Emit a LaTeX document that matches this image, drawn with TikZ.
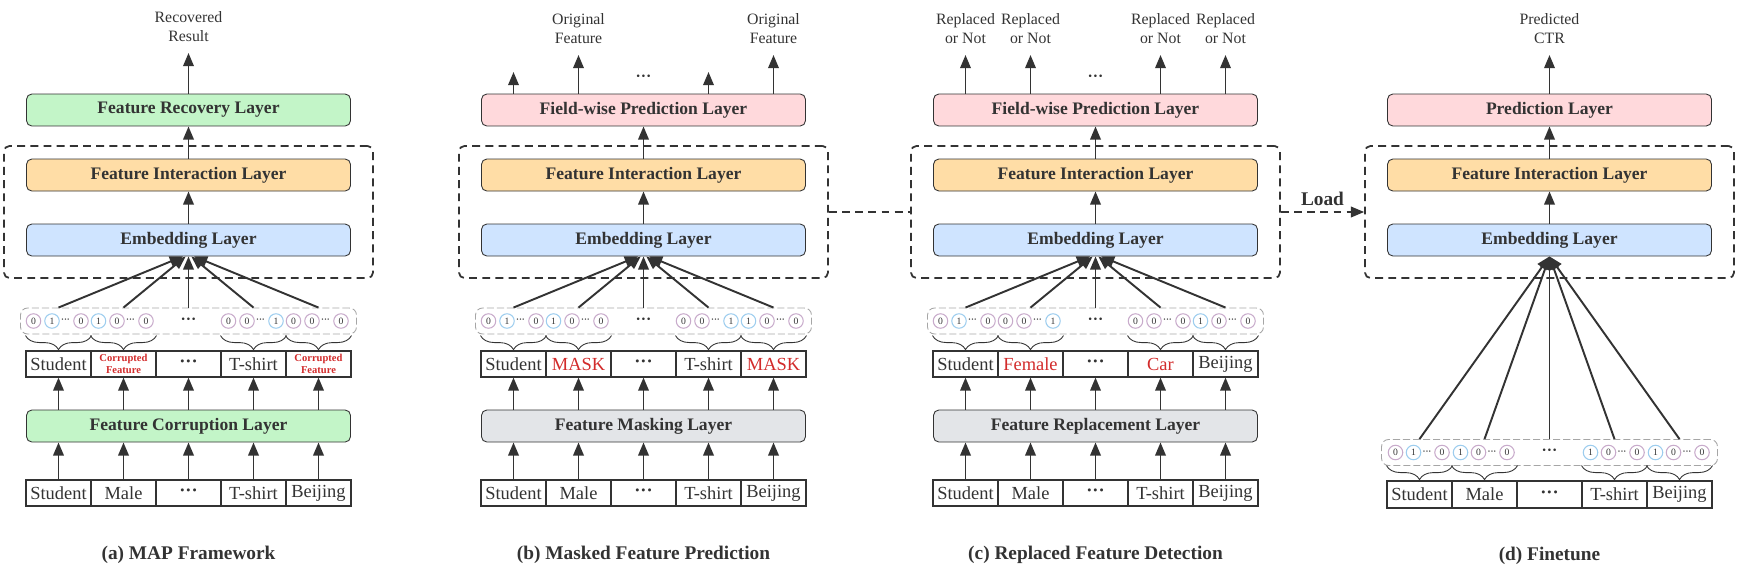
\documentclass[tikz,border=0pt]{standalone}
\usepackage{fontspec}
\setmainfont{Liberation Serif}
\usetikzlibrary{arrows.meta, decorations.pathreplacing, positioning}

\definecolor{ink}{HTML}{333333}
\definecolor{recfill}{HTML}{C3F5C8}
\definecolor{intfill}{HTML}{FFDDA6}
\definecolor{embfill}{HTML}{CFE4FF}
\definecolor{predfill}{HTML}{FFD9DC}
\definecolor{maskfill}{HTML}{E3E5E8}
\definecolor{ring0}{HTML}{C8ABCB}
\definecolor{ring1}{HTML}{9DCDEE}
\definecolor{hot}{HTML}{D22B2B}

\newcommand{\fielddots}{\textbf{···}}

\tikzset{
  layer/.style={draw=ink, line width=0.5pt, rounded corners=3pt, minimum width=6.48cm, minimum height=0.64cm, inner sep=0pt, text=ink, font=\bfseries\fontsize{10}{12}\selectfont},
  cell/.style={draw=ink, line width=0.6pt, minimum width=1.3cm, minimum height=0.52cm, inner sep=0pt, text=ink, font=\fontsize{10.5}{12}\selectfont},
  arr/.style={draw=ink, line width=1.1pt, -{Triangle[length=7.5pt, width=6pt]}},
  frame/.style={draw=ink, line width=1pt, dash pattern=on 4.5pt off 3pt, rounded corners=3pt, minimum width=7.38cm, minimum height=2.64cm, inner sep=0pt},
  link/.style={draw=ink, line width=1pt, dash pattern=on 4.5pt off 3pt},
  vecbox/.style={draw=black!35, line width=0.5pt, dash pattern=on 4pt off 1.7pt, rounded corners=4pt, minimum width=6.72cm, minimum height=0.52cm, inner sep=0pt},
  bit/.style={circle, line width=0.6pt, minimum size=0.29cm, inner sep=0pt, text=ink, font=\fontsize{5.5}{6}\selectfont},
  dotsm/.style={inner sep=0pt, text=ink, font=\bfseries\fontsize{5}{6}\selectfont},
  dotlg/.style={inner sep=0pt, text=ink, font=\bfseries\fontsize{9}{10}\selectfont},
  brc/.style={draw=ink, line width=0.5pt, decorate, decoration={brace, mirror, amplitude=8pt}},
  outlbl/.style={align=center, inner sep=0pt, text=ink, font=\fontsize{9}{10.8}\selectfont},
  caption/.style={text=ink, font=\bfseries\fontsize{11}{13}\selectfont},
  hotsm/.style={text=hot, font=\bfseries\fontsize{6}{7.2}\selectfont, align=center},
  hotlg/.style={text=hot},
}

\begin{document}
\begin{tikzpicture}[x=0.02cm, y=-0.02cm]
  \useasboundingbox (0,0) rectangle (1738,575);

  % (a) MAP Framework
  \begin{scope}[shift={(26,0)}]
    \node[frame] (a-frame) at (162.5, 212) {};
    \node[layer, fill=recfill] (a-rec) at (162.5, 110) {Feature Recovery Layer};
    \node[layer, fill=intfill] (a-int) at (162.5, 175) {Feature Interaction Layer};
    \node[layer, fill=embfill] (a-emb) at (162.5, 240) {Embedding Layer};
    \node[vecbox] (a-vec) at (162.5, 321) {};

    \node[cell] (a-t1) at (32.5, 364) {Student};
    \node[cell, hotsm] (a-t2) at (97.5, 364) {Corrupted\\Feature};
    \node[cell] (a-t3) at (162.5, 364) {\fielddots};
    \node[cell] (a-t4) at (227.5, 364) {T-shirt};
    \node[cell, hotsm] (a-t5) at (292.5, 364) {Corrupted\\Feature};

    \node[layer, fill=recfill] (a-cor) at (162.5, 426) {Feature Corruption Layer};
    \foreach \k/\w in {1/Student, 2/Male, 3/\fielddots, 4/T-shirt, 5/Beijing}
      \node[cell] (a-b\k) at (65*\k-32.5, 493) {\w};

    \foreach \k/\p/\q/\r in {1/0/1/0, 2/1/0/0, 4/0/0/1, 5/0/0/0} {
      \node[bit, draw=ring\p] (a-v\k-1) at (65*\k-57.5, 321) {\p};
      \node[bit, draw=ring\q] (a-v\k-2) at (65*\k-39, 321) {\q};
      \node[dotsm] (a-v\k-3) at (65*\k-25.5, 321) {···};
      \node[bit, draw=ring\r] (a-v\k-4) at (65*\k-10, 321) {\r};
      \draw[brc] ([yshift=8.5pt]a-t\k.north west) -- ([yshift=8.5pt]a-t\k.north east);
    }
    \node[dotlg] (a-v3) at (162.5, 321) {···};

    \foreach \k in {1,...,5} {
      \draw[arr] (a-b\k.north) -- (a-b\k.north |- a-cor.south);
      \draw[arr] (a-t\k.south |- a-cor.north) -- (a-t\k.south);
      \draw[arr] (a-t\k.north |- a-vec.north) -- ([xshift=(\k-3)*1.6pt]a-emb.south);
    }
    \draw[arr] (a-emb.north) -- (a-int.south);
    \draw[arr] (a-int.north) -- (a-rec.south);

    \coordinate (a-out) at (162.5, 53);
    \draw[arr] (a-rec.north) -- (a-out);
    \node[outlbl, above=6pt of a-out] (a-lbl) {Recovered\\Result};

    \node[caption] (a-cap) at (162.5, 555) {(a) MAP Framework};
  \end{scope}

  % (b) Masked Feature Prediction
  \begin{scope}[shift={(481,0)}]
    \node[frame] (b-frame) at (162.5, 212) {};
    \node[layer, fill=predfill] (b-pred) at (162.5, 110) {Field-wise Prediction Layer};
    \node[layer, fill=intfill] (b-int) at (162.5, 175) {Feature Interaction Layer};
    \node[layer, fill=embfill] (b-emb) at (162.5, 240) {Embedding Layer};
    \node[vecbox] (b-vec) at (162.5, 321) {};

    \node[cell] (b-t1) at (32.5, 364) {Student};
    \node[cell, hotlg] (b-t2) at (97.5, 364) {MASK};
    \node[cell] (b-t3) at (162.5, 364) {\fielddots};
    \node[cell] (b-t4) at (227.5, 364) {T-shirt};
    \node[cell, hotlg] (b-t5) at (292.5, 364) {MASK};

    \node[layer, fill=maskfill] (b-mask) at (162.5, 426) {Feature Masking Layer};
    \foreach \k/\w in {1/Student, 2/Male, 3/\fielddots, 4/T-shirt, 5/Beijing}
      \node[cell] (b-b\k) at (65*\k-32.5, 493) {\w};

    \foreach \k/\p/\q/\r in {1/0/1/0, 2/1/0/0, 4/0/0/1, 5/1/0/0} {
      \node[bit, draw=ring\p] (b-v\k-1) at (65*\k-57.5, 321) {\p};
      \node[bit, draw=ring\q] (b-v\k-2) at (65*\k-39, 321) {\q};
      \node[dotsm] (b-v\k-3) at (65*\k-25.5, 321) {···};
      \node[bit, draw=ring\r] (b-v\k-4) at (65*\k-10, 321) {\r};
      \draw[brc] ([yshift=8.5pt]b-t\k.north west) -- ([yshift=8.5pt]b-t\k.north east);
    }
    \node[dotlg] (b-v3) at (162.5, 321) {···};

    \foreach \k in {1,...,5} {
      \draw[arr] (b-b\k.north) -- (b-b\k.north |- b-mask.south);
      \draw[arr] (b-t\k.south |- b-mask.north) -- (b-t\k.south);
      \draw[arr] (b-t\k.north |- b-vec.north) -- ([xshift=(\k-3)*1.6pt]b-emb.south);
    }
    \draw[arr] (b-emb.north) -- (b-int.south);
    \draw[arr] (b-int.north) -- (b-pred.south);

    \coordinate (b-out1) at (32.5, 72);
    \coordinate (b-out2) at (97.5, 55);
    \coordinate (b-out4) at (227.5, 72);
    \coordinate (b-out5) at (292.5, 55);
    \foreach \k in {1,2,4,5}
      \draw[arr] (b-pred.north -| b-out\k) -- (b-out\k);
    \node[dotlg] (b-dots) at (162.5, 78) {···};
    \node[outlbl, above=6pt of b-out2] (b-lbl2) {Original\\Feature};
    \node[outlbl, above=6pt of b-out5] (b-lbl5) {Original\\Feature};

    \node[caption] (b-cap) at (162.5, 555) {(b) Masked Feature Prediction};
  \end{scope}

  % (c) Replaced Feature Detection
  \begin{scope}[shift={(933,0)}]
    \node[frame] (c-frame) at (162.5, 212) {};
    \node[layer, fill=predfill] (c-pred) at (162.5, 110) {Field-wise Prediction Layer};
    \node[layer, fill=intfill] (c-int) at (162.5, 175) {Feature Interaction Layer};
    \node[layer, fill=embfill] (c-emb) at (162.5, 240) {Embedding Layer};
    \node[vecbox] (c-vec) at (162.5, 321) {};

    \node[cell] (c-t1) at (32.5, 364) {Student};
    \node[cell, hotlg] (c-t2) at (97.5, 364) {Female};
    \node[cell] (c-t3) at (162.5, 364) {\fielddots};
    \node[cell, hotlg] (c-t4) at (227.5, 364) {Car};
    \node[cell] (c-t5) at (292.5, 364) {Beijing};

    \node[layer, fill=maskfill] (c-repl) at (162.5, 426) {Feature Replacement Layer};
    \foreach \k/\w in {1/Student, 2/Male, 3/\fielddots, 4/T-shirt, 5/Beijing}
      \node[cell] (c-b\k) at (65*\k-32.5, 493) {\w};

    \foreach \k/\p/\q/\r in {1/0/1/0, 2/0/0/1, 4/0/0/0, 5/1/0/0} {
      \node[bit, draw=ring\p] (c-v\k-1) at (65*\k-57.5, 321) {\p};
      \node[bit, draw=ring\q] (c-v\k-2) at (65*\k-39, 321) {\q};
      \node[dotsm] (c-v\k-3) at (65*\k-25.5, 321) {···};
      \node[bit, draw=ring\r] (c-v\k-4) at (65*\k-10, 321) {\r};
      \draw[brc] ([yshift=8.5pt]c-t\k.north west) -- ([yshift=8.5pt]c-t\k.north east);
    }
    \node[dotlg] (c-v3) at (162.5, 321) {···};

    \foreach \k in {1,...,5} {
      \draw[arr] (c-b\k.north) -- (c-b\k.north |- c-repl.south);
      \draw[arr] (c-t\k.south |- c-repl.north) -- (c-t\k.south);
      \draw[arr] (c-t\k.north |- c-vec.north) -- ([xshift=(\k-3)*1.6pt]c-emb.south);
    }
    \draw[arr] (c-emb.north) -- (c-int.south);
    \draw[arr] (c-int.north) -- (c-pred.south);

    \foreach \k in {1,2,4,5} {
      \coordinate (c-out\k) at (65*\k-32.5, 55);
      \draw[arr] (c-pred.north -| c-out\k) -- (c-out\k);
      \node[outlbl, above=6pt of c-out\k] (c-lbl\k) {Replaced\\or Not};
    }
    \node[dotlg] (c-dots) at (162.5, 78) {···};

    \node[caption] (c-cap) at (162.5, 555) {(c) Replaced Feature Detection};
  \end{scope}

  % (d) Finetune
  \begin{scope}[shift={(1387,0)}]
    \node[frame] (d-frame) at (162.5, 212) {};
    \node[layer, fill=predfill] (d-pred) at (162.5, 110) {Prediction Layer};
    \node[layer, fill=intfill] (d-int) at (162.5, 175) {Feature Interaction Layer};
    \node[layer, fill=embfill] (d-emb) at (162.5, 240) {Embedding Layer};
    \node[vecbox] (d-vec) at (162.5, 452.5) {};

    \foreach \k/\w in {1/Student, 2/Male, 3/\fielddots, 4/T-shirt, 5/Beijing}
      \node[cell, minimum height=0.54cm] (d-t\k) at (65*\k-32.5, 494.5) {\w};

    \foreach \k/\p/\q/\r in {1/0/1/0, 2/1/0/0, 4/1/0/0, 5/1/0/0} {
      \node[bit, draw=ring\p] (d-v\k-1) at (65*\k-56.5, 452.5) {\p};
      \node[bit, draw=ring\q] (d-v\k-2) at (65*\k-38.5, 452.5) {\q};
      \node[dotsm] (d-v\k-3) at (65*\k-25, 452.5) {···};
      \node[bit, draw=ring\r] (d-v\k-4) at (65*\k-10, 452.5) {\r};
      \draw[brc] ([yshift=8.5pt]d-t\k.north west) -- ([yshift=8.5pt]d-t\k.north east);
    }
    \node[dotlg] (d-v3) at (162.5, 452.5) {···};

    \foreach \k in {1,...,5}
      \draw[arr] (d-t\k.north |- d-vec.north) -- (d-emb.south);
    \draw[arr] (d-emb.north) -- (d-int.south);
    \draw[arr] (d-int.north) -- (d-pred.south);

    \coordinate (d-out) at (162.5, 55);
    \draw[arr] (d-pred.north) -- (d-out);
    \node[outlbl, above=6pt of d-out] (d-lbl) {Predicted\\CTR};

    \node[caption] (d-cap) at (162.5, 556) {(d) Finetune};
  \end{scope}

  % shared backbone
  \draw[link] (b-frame.east) -- (c-frame.west);
  \draw[link, -{Triangle[length=7.5pt, width=6pt]}] (c-frame.east) -- node[caption, above] (load) {Load} (d-frame.west);
\end{tikzpicture}
\end{document}
